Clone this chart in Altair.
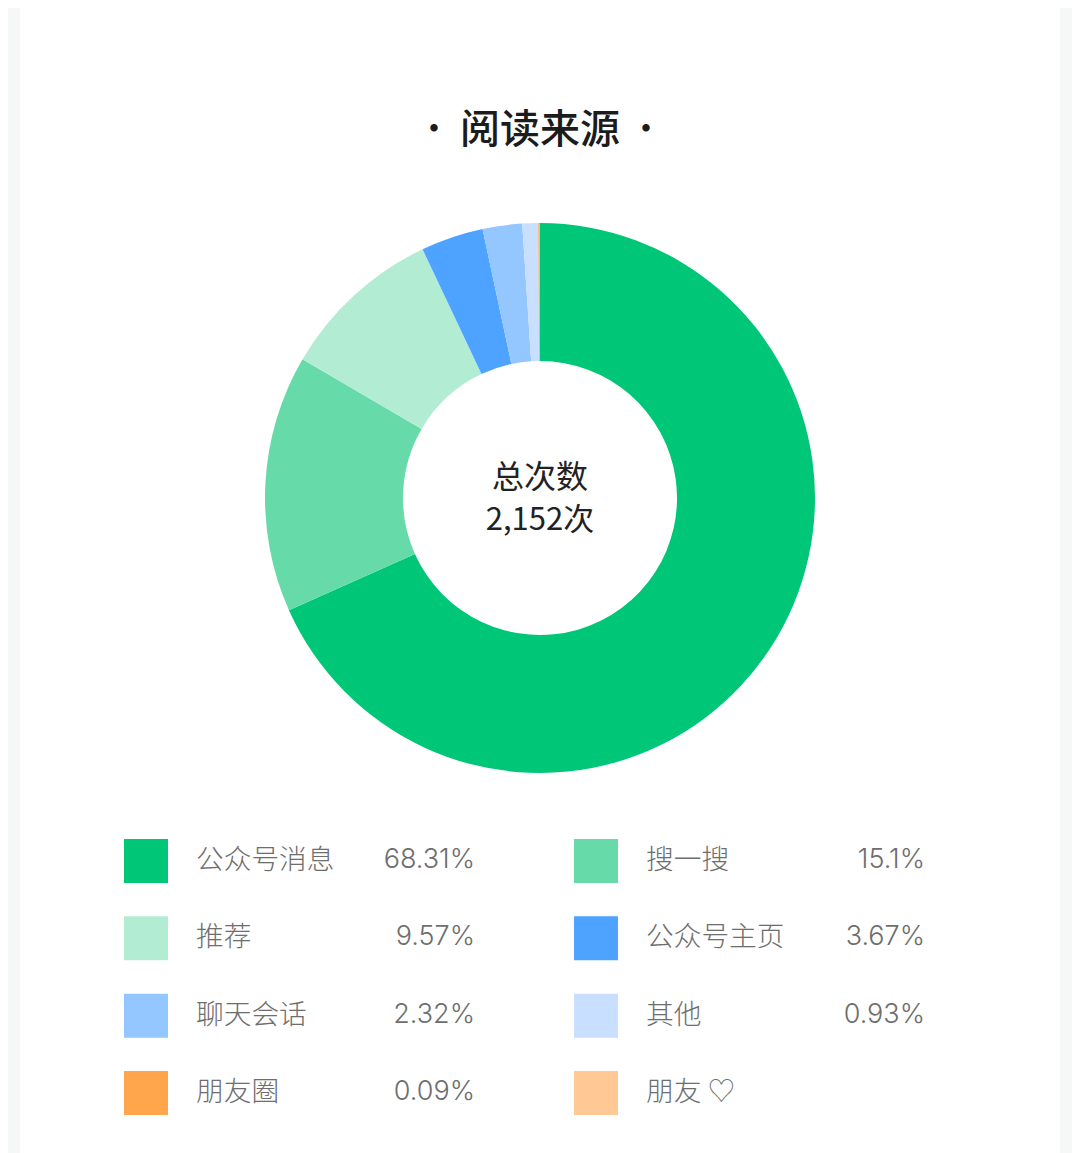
import altair as alt
import pandas as pd

categories = ["公众号消息", "搜一搜", "推荐", "公众号主页", "聊天会话", "其他", "朋友圈", "朋友 ♡"]
values = [68.31, 15.1, 9.57, 3.67, 2.32, 0.93, 0.09, 0.01]
pct_labels = ["68.31%", "15.1%", "9.57%", "3.67%", "2.32%", "0.93%", "0.09%", ""]
colors = ["#00C777", "#66DBA9", "#B2EDD3", "#4DA3FF", "#94C6FF", "#C8DFFF", "#FFA64D", "#FFC894"]
legend_col = [0, 1, 0, 1, 0, 1, 0, 1]
legend_row = [0, 0, 1, 1, 2, 2, 3, 3]
order = list(range(8))

df = pd.DataFrame({
    "cat": categories, "val": values, "pct": pct_labels,
    "col": legend_col, "row": legend_row, "idx": order,
})
base = alt.Chart(df)

CJK = "Noto Sans CJK SC"
color = alt.Color("cat:N", scale=alt.Scale(domain=categories, range=colors), legend=None)
xs = alt.X("col:Q", scale=alt.Scale(domain=[0, 1], range=[138, 588]), axis=None)
ys = alt.Y("row:Q", scale=alt.Scale(domain=[0, 3], range=[853, 1085]), axis=None)

bands = alt.Chart(pd.DataFrame({"side": ["l", "r"], "a": [0, 1052], "b": [12, 1064]})).mark_rect(color="#F6F8F7").encode(
    x=alt.X("a:Q", scale=alt.Scale(domain=[0, 1064], range=[0, 1064]), axis=None),
    x2="b:Q",
    y=alt.value(0), y2=alt.value(1145),
)

donut = base.mark_arc(outerRadius=275, innerRadius=137).encode(
    theta=alt.Theta("val:Q", stack=True, scale=alt.Scale(domain=[0, sum(values)], range=[0, 6.283185307])),
    order=alt.Order("idx:Q"),
    color=color,
    x=alt.value(532), y=alt.value(490),
)

swatch = base.mark_square(size=1936, opacity=1).encode(x=xs, y=ys, color=color)
label = base.mark_text(align="left", baseline="middle", dx=50, dy=0, font=CJK, fontSize=27.7,
                       fontWeight=300, color="#6E6E6E").encode(x=xs, y=ys, text="cat:N")
pct = base.mark_text(align="right", baseline="middle", dx=329, dy=-1, font="Inter", fontSize=27,
                     fontWeight=300, color="#6E6E6E").encode(x=xs, y=ys, text="pct:N")

title = alt.Chart(pd.DataFrame({"t": ["阅读来源"]})).mark_text(
    font=CJK, fontSize=40, fontWeight=500, color="#1C1C1C", align="center", baseline="middle"
).encode(x=alt.value(532), y=alt.value(123), text="t:N")
dots = alt.Chart(pd.DataFrame({"t": ["·", "·"], "p": [0, 1]})).mark_text(
    font=CJK, fontSize=32, fontWeight=500, color="#1C1C1C", align="center", baseline="middle"
).encode(
    x=alt.X("p:Q", scale=alt.Scale(domain=[0, 1], range=[426, 638]), axis=None),
    y=alt.value(122), text="t:N",
)

center = alt.Chart(pd.DataFrame({"t": ["总次数"], "u": ["2,152次"]}))
c1 = center.mark_text(font=CJK, fontSize=32, fontWeight=400, color="#222222", align="center", baseline="middle").encode(
    x=alt.value(532), y=alt.value(470), text="t:N")
c2 = center.mark_text(font=CJK, fontSize=31, fontWeight=400, color="#222222", align="center", baseline="middle").encode(
    x=alt.value(532), y=alt.value(513), text="u:N")

chart = alt.layer(bands, donut, swatch, label, pct, title, dots, c1, c2).resolve_scale(x="independent").properties(
    width=1064, height=1145, padding=0,
    autosize=alt.AutoSizeParams(type="none"),
    background="white",
).configure_view(stroke=None)

chart.save("out.html", embed_options={"renderer": "svg", "actions": False})
